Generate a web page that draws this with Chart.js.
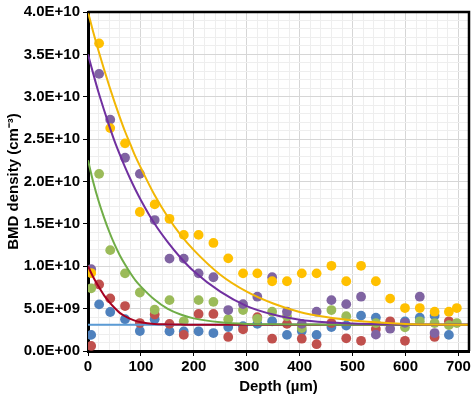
<!DOCTYPE html>
<html>
<head>
<meta charset="utf-8">
<script src="https://cdn.jsdelivr.net/npm/chart.js@4.4.1/dist/chart.umd.min.js"></script>
<style>
html,body{margin:0;padding:0;background:#fff;}
#wrap{width:474px;height:397px;}
</style>
</head>
<body>
<div id="wrap"><canvas id="c" width="474" height="397"></canvas></div>
<script>
// Values in units of 1E+09 cm^-3
const UNIT = 1e9;
const depth = [6, 21, 42, 70, 98, 126, 154, 181, 209, 237, 265, 293, 320, 348, 376, 404, 432, 460, 488, 516, 544, 571, 599, 627, 655, 682, 697];
const blueBMD   = [1.9, 5.5, 4.6, 3.75, 2.36, 3.75, 2.32, 2.3, 2.32, 2.12, 2.82, 2.93, 3.2, 3.51, 1.9, 2.36, 1.9, 2.82, 3.0, 4.17, 3.94, null, 3.48, 3.94, 4.17, 1.9, null];
const redBMD    = [0.6, 7.85, 6.2, 5.3, 3.3, 4.3, 3.2, 1.9, 4.37, 4.37, 1.66, 2.55, 4.0, 1.45, 3.2, 1.45, 0.8, 3.3, 1.5, 1.2, 2.6, 3.5, 1.2, null, 1.66, 3.5, null];
const greenBMD  = [7.4, 20.9, 11.9, 9.16, 6.9, 4.87, 6.0, 3.5, 6.0, 5.8, 3.75, 4.83, 3.8, 4.64, 4.1, 2.7, null, 4.83, 4.1, null, 3.3, null, 2.8, 3.5, 3.3, 3.05, 3.3];
const purpleBMD = [9.66, 32.7, 27.3, 22.8, 20.9, 15.45, 10.9, 10.9, 9.16, 8.7, 4.83, 5.53, 6.41, 8.7, 4.64, 3.2, 4.64, 6.0, 5.53, 6.41, 1.93, 2.63, 3.33, 6.41, 2.12, null, null];
const yellowBMD = [9.2, 36.3, 26.3, 24.5, 16.4, 17.3, 15.6, 13.7, 13.7, 12.75, 10.93, 9.16, 9.16, 8.23, 8.23, 9.16, 9.16, 10.05, 8.23, 10.05, 8.23, 6.18, 5.07, 5.07, 4.64, 4.64, 5.07];

// Fitted curves
const curveDepth = [0, 10, 20, 30, 40, 50, 60, 70, 80, 90, 100, 125, 150, 175, 200, 250, 300, 350, 400, 450, 500, 550, 600, 650, 720];
const blueFit   = [3.1, 3.1, 3.1, 3.1, 3.1, 3.1, 3.1, 3.1, 3.1, 3.1, 3.1, 3.1, 3.1, 3.1, 3.1, 3.1, 3.1, 3.1, 3.1, 3.1, 3.1, 3.1, 3.1, 3.1, 3.1];
const redFit    = [10.0, 8.7, 7.6, 6.6, 5.8, 5.1, 4.5, 4.1, 3.8, 3.55, 3.4, 3.2, 3.14, 3.12, 3.1, 3.1, 3.1, 3.1, 3.1, 3.1, 3.1, 3.1, 3.1, 3.1, 3.1];
const greenFit  = [22.5, 19.9, 17.7, 15.8, 14.1, 12.6, 11.3, 10.2, 9.2, 8.3, 7.6, 6.1, 5.0, 4.3, 3.85, 3.4, 3.2, 3.15, 3.12, 3.11, 3.1, 3.1, 3.1, 3.1, 3.1];
const purpleFit = [35.0, 32.7, 30.5, 28.5, 26.6, 24.8, 23.2, 21.7, 20.3, 19.0, 17.8, 15.1, 12.9, 11.0, 9.4, 7.0, 5.3, 4.3, 3.7, 3.4, 3.25, 3.17, 3.13, 3.11, 3.1];
const yellowFit = [40.0, 37.6, 35.4, 33.3, 31.3, 29.4, 27.6, 25.9, 24.4, 22.9, 21.6, 18.5, 15.9, 13.7, 11.9, 9.0, 7.0, 5.6, 4.6, 4.0, 3.6, 3.35, 3.2, 3.13, 3.1];

const xTicks = [0, 100, 200, 300, 400, 500, 600, 700];

function pts(xs, ys){
  const out = [];
  xs.forEach((x,i)=>{ if (ys[i] !== null && ys[i] !== undefined) out.push({x:x, y:ys[i]*UNIT}); });
  return out;
}
function fmtE(v){
  if (v === 0) return '0.0E+00';
  const e = Math.floor(Math.log10(v) + 1e-9);
  const m = v / Math.pow(10, e);
  return m.toFixed(1) + 'E+' + String(e).padStart(2,'0');
}
const lineDS = (data, color) => ({type:'scatter', data, showLine:true, borderColor:color, borderWidth:2, pointRadius:0, cubicInterpolationMode:'monotone', fill:false});
const ptDS = (data, color) => ({type:'scatter', data, showLine:false, backgroundColor:color, borderColor:color, borderWidth:0, pointRadius:4.9, pointHoverRadius:4.9});

const frame = {
  id:'frame',
  afterDraw(chart){
    const {ctx, chartArea:a} = chart;
    ctx.save();
    ctx.strokeStyle = '#000';
    ctx.lineWidth = 2.5;
    ctx.beginPath();
    ctx.moveTo(a.left, a.top); ctx.lineTo(a.right, a.top); ctx.lineTo(a.right, a.bottom);
    ctx.stroke();
    ctx.restore();
  }
};

const FONT = "'Liberation Sans', Arial, sans-serif";
new Chart(document.getElementById('c'), {
  type:'scatter',
  data:{ datasets:[
    lineDS(pts(curveDepth, yellowFit), '#F2B705'),
    lineDS(pts(curveDepth, purpleFit), '#7030A0'),
    lineDS(pts(curveDepth, greenFit), '#70AD47'),
    lineDS(pts(curveDepth, redFit), '#A50021'),
    lineDS(pts(curveDepth, blueFit), '#5B9BD5'),
    ptDS(pts(depth, yellowBMD), '#FFC000'),
    ptDS(pts(depth, purpleBMD), '#8064A2'),
    ptDS(pts(depth, greenBMD), '#9BBB59'),
    ptDS(pts(depth, redBMD), '#C0504D'),
    ptDS(pts(depth, blueBMD), '#4F81BD')
  ]},
  options:{
    responsive:false, animation:false, devicePixelRatio:1,
    layout:{padding:{top:6, right:5, left:0, bottom:0}},
    plugins:{legend:{display:false}, tooltip:{enabled:false}},
    scales:{
      x:{
        type:'linear', min:0, max:720,
        afterFit(s){ s.height = 46; },
        afterBuildTicks(s){ const t=[]; for(let v=0; v<=720; v+=20) t.push({value:v}); s.ticks = t; },
        ticks:{autoSkip:false, maxRotation:0, padding:2, color:'#000',
          font:{family:FONT, size:15, weight:'bold'},
          callback:(v)=> xTicks.includes(v) ? String(v) : ''},
        grid:{
          color:(c)=> (c.tick && c.tick.value % 100 === 0) ? '#d6d6d6' : '#eeeeee',
          tickColor:(c)=> (c.tick && c.tick.value % 100 === 0 && c.tick.value <= 700) ? '#000' : 'rgba(0,0,0,0)',
          tickLength:5, lineWidth:1
        },
        border:{color:'#000', width:3},
        title:{display:true, text:'Depth (µm)', color:'#000', font:{family:FONT, size:15, weight:'bold'}, padding:{top:0,bottom:1}}
      },
      y:{
        type:'linear', min:0, max:4e10,
        afterFit(s){ s.width = 88; },
        afterBuildTicks(s){ const t=[]; for(let k=0; k<=40; k++) t.push({value:k*1e9}); s.ticks = t; },
        ticks:{autoSkip:false, padding:3, color:'#000',
          font:{family:FONT, size:15, weight:'bold'},
          callback:(v)=> (Math.round(v/1e9) % 5 === 0) ? fmtE(Math.round(v/1e9)*1e9) : ''},
        grid:{
          color:(c)=> (c.tick && Math.round(c.tick.value/1e9) % 5 === 0) ? '#d6d6d6' : '#eeeeee',
          tickColor:(c)=> (c.tick && Math.round(c.tick.value/1e9) % 5 === 0) ? '#000' : 'rgba(0,0,0,0)',
          tickLength:5, lineWidth:1
        },
        border:{color:'#000', width:3},
        title:{display:true, text:'BMD density (cm⁻³)', color:'#000', font:{family:FONT, size:15, weight:'bold'}, padding:{top:5,bottom:0}}
      }
    }
  },
  plugins:[frame]
});
</script>
</body>
</html>
